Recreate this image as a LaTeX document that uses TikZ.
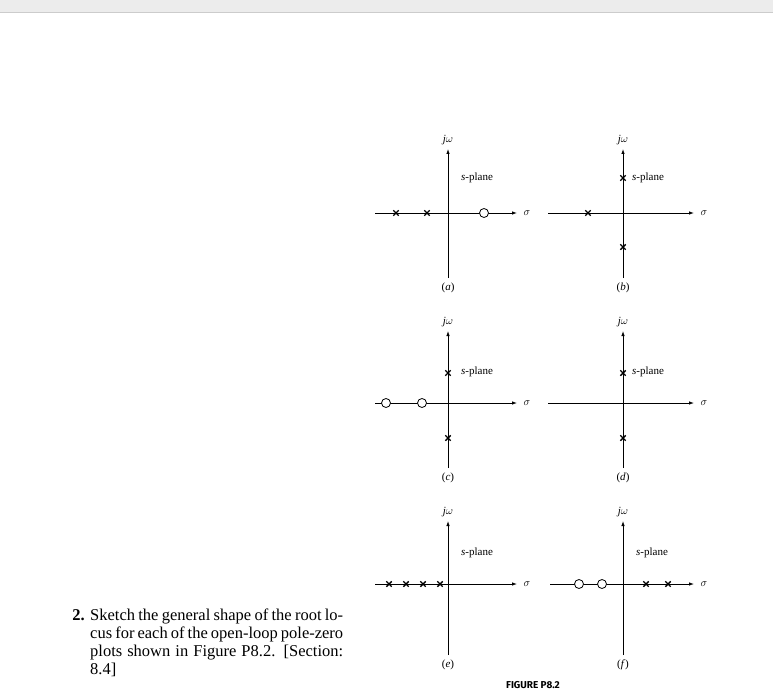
\documentclass[tikz,border=0pt]{standalone}
\usepackage{fontspec}
\setmainfont{Liberation Serif}
\newfontfamily\figfont{Fira Sans}
\usetikzlibrary{arrows.meta}
\begin{document}
\begin{tikzpicture}[x=1pt,y=-1pt,
  ax/.style={line width=0.8pt,-{Latex[length=5pt,width=3.5pt]}},
  lbl/.style={font=\fontsize{11}{12}\selectfont},
  zer/.style={circle,draw,fill=white,line width=0.8pt,minimum size=9pt,inner sep=0pt}]
\useasboundingbox (0,0) rectangle (773,695);
\fill[gray!15] (0,0) rectangle (773,12);
\draw[gray!40] (0,12) -- (773,12);
\newcommand{\px}[2]{\draw[line width=1.4pt] (#1-2.7,#2-2.7)--(#1+2.7,#2+2.7) (#1-2.7,#2+2.7)--(#1+2.7,#2-2.7);}
\newcommand{\plane}[7]{% x, y(horiz), top, bottom, left, right, caption
  \coordinate (v#7t) at (#1,#3); \coordinate (v#7b) at (#1,#4);
  \coordinate (h#7l) at (#5,#2); \coordinate (h#7r) at (#6,#2);
  \draw[ax] (v#7b) -- (v#7t);
  \draw[ax] (h#7l) -- (h#7r);
  \node[lbl] (jw#7) at (#1,#3-9) {\textit{j}$\omega$};
  \node[lbl,right] (sg#7) at (#6+3,#2) {$\sigma$};
  \node[lbl] (cap#7) at (#1,#4+10) {(\textit{#7})};}
\plane{448}{213}{149}{278}{375}{517}{a}
\px{396}{213}\px{427}{213}
\node[zer] (za) at (484,213) {};
\node[lbl] (spa) at (477,178) {\textit{s}-plane};
\plane{623}{213}{149}{278}{548}{694}{b}
\px{588}{213}\px{623}{178}\px{623}{247}
\node[lbl] (spb) at (648,178) {\textit{s}-plane};
\plane{448}{403}{331}{468}{375}{517}{c}
\node[zer] (zc1) at (386,403) {};
\node[zer] (zc2) at (422,403) {};
\px{448}{373}\px{448}{438}
\node[lbl] (spc) at (477,372) {\textit{s}-plane};
\plane{623}{403}{331}{468}{548}{694}{d}
\px{623}{373}\px{623}{438}
\node[lbl] (spd) at (648,372) {\textit{s}-plane};
\plane{448}{584}{521}{655}{375}{517}{e}
\px{389}{584}\px{406}{584}\px{423}{584}\px{440}{584}
\node[lbl] (spe) at (477,553) {\textit{s}-plane};
\plane{623}{584}{521}{655}{550}{694}{f}
\node[zer] (zf1) at (579,584) {};
\node[zer] (zf2) at (602,584) {};
\px{646}{584}\px{668}{584}
\node[lbl] (spf) at (652,553) {\textit{s}-plane};
\node (fig) at (533,685) {\figfont\bfseries\fontsize{10}{11}\selectfont FIGURE P8.2};
\node[anchor=north east,inner sep=0pt] (num) at (85,609) {\fontsize{16.5}{18}\selectfont\bfseries 2.};
\node[anchor=north west,inner sep=0pt,text width=253pt,align=justify,font=\fontsize{16.5}{18}\selectfont] (txt) at (90,609)
 {Sketch the general shape of the root locus for each of the open-loop pole-zero plots shown in Figure P8.2. [Section: 8.4]\par};
\end{tikzpicture}
\end{document}
